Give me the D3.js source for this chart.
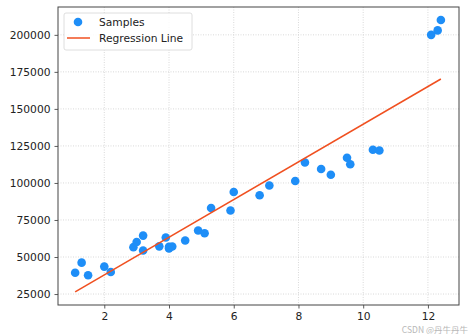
<!DOCTYPE html>
<html><head><meta charset="utf-8">
<script src="https://cdn.jsdelivr.net/npm/d3@7"></script>
<style>html,body{margin:0;padding:0;background:#fff;}svg{display:block;font-family:"DejaVu Sans",sans-serif;}</style>
</head><body>
<script>
const years = [1.1,1.3,1.5,2.0,2.2,2.9,3.0,3.2,3.2,3.7,3.9,4.0,4.0,4.1,4.5,4.9,5.1,5.3,5.9,6.0,6.8,7.1,7.9,8.2,8.7,9.0,9.5,9.6,10.3,10.5,12.1,12.3,12.4];
const salary = [39343,46205,37731,43525,39891,56642,60150,54445,64445,57189,63218,55794,56957,57081,61111,67938,66029,83088,81363,93940,91738,98273,101302,113812,109431,105582,116969,112635,122391,121872,200000,203000,210000];
const lineX = [1.1, 12.4];
const lineY = [26500, 170200];
const xTicks = [2,4,6,8,10,12];
const yTicks = [25000,50000,75000,100000,125000,150000,175000,200000];

const W=474,H=334;
const m={left:58,right:15,top:7,bottom:29};
const svg=d3.select("body").append("svg").attr("width",W).attr("height",H);
const x=d3.scaleLinear().domain([0.57,12.96]).range([m.left,W-m.right]);
const y=d3.scaleLinear().domain([17600,218800]).range([H-m.bottom,m.top]);

// grid
const g=svg.append("g");
g.selectAll(".gx").data(xTicks).join("line")
 .attr("x1",d=>x(d)).attr("x2",d=>x(d)).attr("y1",m.top).attr("y2",H-m.bottom)
 .attr("stroke","#cfcfcf").attr("stroke-width",0.8).attr("stroke-dasharray","1,1.5");
g.selectAll(".gy").data(yTicks).join("line")
 .attr("y1",d=>y(d)).attr("y2",d=>y(d)).attr("x1",m.left).attr("x2",W-m.right)
 .attr("stroke","#cfcfcf").attr("stroke-width",0.8).attr("stroke-dasharray","1,1.5");

// points
svg.append("g").selectAll("circle").data(years.map((v,i)=>[v,salary[i]])).join("circle")
 .attr("cx",d=>x(d[0])).attr("cy",d=>y(d[1])).attr("r",4.3).attr("fill","#1e8ef7");

// regression line
svg.append("path").datum(lineX.map((v,i)=>[v,lineY[i]]))
 .attr("d",d3.line().x(d=>x(d[0])).y(d=>y(d[1])))
 .attr("fill","none").attr("stroke","#f05020").attr("stroke-width",1.5);

// axes
const xa=svg.append("g").attr("transform",`translate(0,${H-m.bottom})`)
 .call(d3.axisBottom(x).tickValues(xTicks).tickSize(3.5).tickPadding(4).tickFormat(d3.format("d")));
const ya=svg.append("g").attr("transform",`translate(${m.left},0)`)
 .call(d3.axisLeft(y).tickValues(yTicks).tickSize(3.5).tickPadding(4).tickFormat(d3.format("d")));
[xa,ya].forEach(a=>{a.select(".domain").remove();a.selectAll("text").attr("font-size","10.7px").attr("fill","#222").attr("font-family","DejaVu Sans");a.selectAll("line").attr("stroke","#333").attr("stroke-width",0.8);});

svg.append("rect").attr("x",m.left).attr("y",m.top).attr("width",W-m.right-m.left).attr("height",H-m.bottom-m.top)
 .attr("fill","none").attr("stroke","#444").attr("stroke-width",1);

// legend
const lg=svg.append("g");
lg.append("rect").attr("x",64).attr("y",13).attr("width",128).attr("height",37).attr("rx",2)
 .attr("fill","#fff").attr("fill-opacity",0.85).attr("stroke","#d6d6d6").attr("stroke-width",0.8);
lg.append("circle").attr("cx",78).attr("cy",22).attr("r",4.3).attr("fill","#1e8ef7");
lg.append("line").attr("x1",67).attr("x2",90).attr("y1",38).attr("y2",38).attr("stroke","#f05020").attr("stroke-width",1.5);
lg.append("text").attr("x",99).attr("y",25.5).text("Samples").attr("font-size","10.7px").attr("fill","#222");
lg.append("text").attr("x",99).attr("y",42).text("Regression Line").attr("font-size","10.7px").attr("fill","#222");

// watermark
svg.append("text").attr("x",468).attr("y",333).attr("text-anchor","end").text("CSDN @丹牛丹牛")
 .attr("font-size","8.5px").attr("fill","#b8b8b8").attr("font-family","Noto Sans CJK SC, DejaVu Sans");
</script>
</body></html>
